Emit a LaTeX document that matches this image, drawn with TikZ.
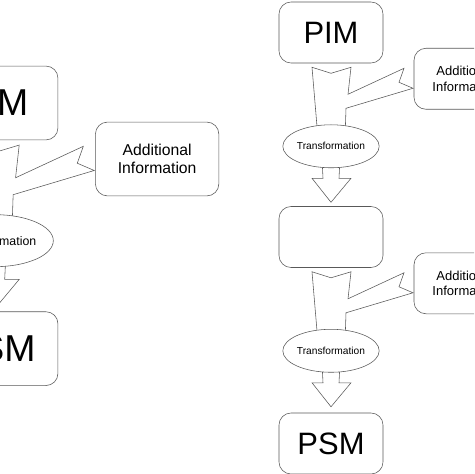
\documentclass[tikz,border=0pt]{standalone}
\usepackage{fontspec}
\setmainfont{Liberation Sans}
\usetikzlibrary{shapes.geometric}

\tikzset{
  trait/.style={draw=black!65, line width=0.8pt},
  modele/.style={trait, fill=white, rounded corners=6mm, minimum width=52mm, minimum height=30.5mm, inner sep=0pt, font=\fontsize{44}{50}\selectfont},
  info/.style={trait, fill=white, rounded corners=6mm, minimum width=51mm, minimum height=30.5mm, align=center, font=\fontsize{18.5}{22}\selectfont},
  transfo/.style={trait, fill=white, ellipse, minimum width=43.5mm, minimum height=21.5mm, inner sep=0pt, font=\fontsize{14.5}{17}\selectfont},
  fleche/.style={trait, fill=white, line join=miter}
}

\begin{document}
\begin{tikzpicture}[x=0.5mm, y=-0.5mm]
  \useasboundingbox (0,0) rectangle (474,474);
  \clip (0,0) rectangle (474,474);

  % Modeles (gauche)
  \begin{scope}[shift={(-5,103)}, scale=1.21, transform shape]
    \node[modele] (pimG) at (0,0) {PIM};
    \node[modele] (psmG) at (0,203) {PSM};
  \end{scope}

  % Modeles (droite)
  \node[modele] (pimD) at (331,32.5) {PIM};
  \node[modele] (vide) at (331,237) {};
  \node[modele] (psmD) at (331,443.5) {PSM};

  % Transformations
  \foreach \src/\ech in {pimG/1.21, pimD/1, vide/1} {
    \begin{scope}[shift={(\src.south)}, scale=\ech, transform shape]
      \draw[fleche] (-19,4) -- (0,10) -- (20,4) -- (17,31) -- (73,5) -- (68,19) -- (82,25) -- (15,45) -- (14,75) -- (-13,75) -- cycle;
      \draw[fleche] (-9,95) -- (-8,115) -- (-19,115) -- (0,139) -- (20,115) -- (8,115) -- (9,95) -- cycle;
      \node[transfo] (tr-\src) at (0,83) {Transformation};
      \node[info] (info-\src) at (134,15.5) {Additional\\Information};
    \end{scope}
  }
\end{tikzpicture}
\end{document}
